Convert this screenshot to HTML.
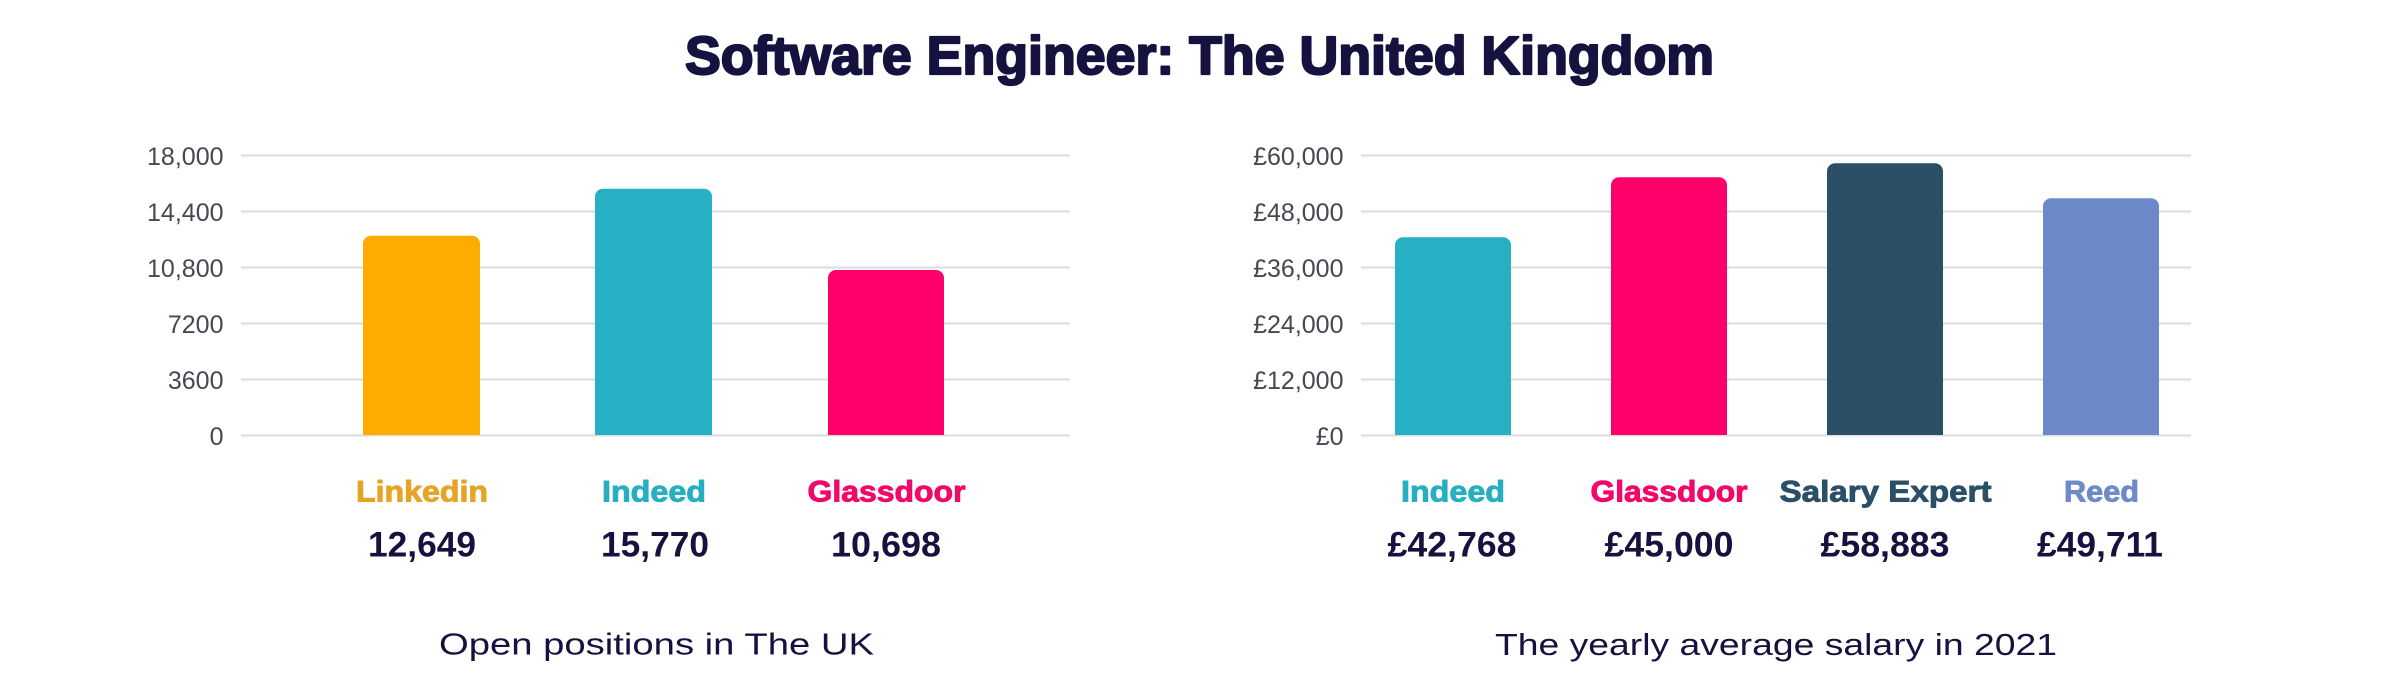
<!DOCTYPE html>
<html>
<head>
<meta charset="utf-8">
<style>
  html,body{margin:0;padding:0;background:#ffffff;}
  svg{display:block;}
  text{font-family:"Liberation Sans", "DejaVu Sans", sans-serif;}
</style>
</head>
<body>
<svg width="2400" height="685" viewBox="0 0 2400 685" xmlns="http://www.w3.org/2000/svg">
  <rect x="0" y="0" width="2400" height="685" fill="#ffffff"/>

  <!-- Title -->
  <text x="685" y="74" font-size="54" font-weight="bold" fill="#16123f" stroke="#16123f" stroke-width="2.2" stroke-linejoin="round" textLength="1029" lengthAdjust="spacingAndGlyphs">Software Engineer: The United Kingdom</text>

  <!-- LEFT CHART gridlines -->
  <g stroke="#dcdcdc" stroke-width="2">
    <line x1="241" y1="155.5" x2="1070" y2="155.5"/>
    <line x1="241" y1="211.5" x2="1070" y2="211.5"/>
    <line x1="241" y1="267.5" x2="1070" y2="267.5"/>
    <line x1="241" y1="323.5" x2="1070" y2="323.5"/>
    <line x1="241" y1="379.5" x2="1070" y2="379.5"/>
    <line x1="241" y1="435.5" x2="1070" y2="435.5"/>
  </g>
  <g font-size="25" fill="#474754" text-anchor="end">
    <text x="223.5" y="165">18,000</text>
    <text x="223.5" y="221">14,400</text>
    <text x="223.5" y="277">10,800</text>
    <text x="223.5" y="333">7200</text>
    <text x="223.5" y="389">3600</text>
    <text x="223.5" y="445">0</text>
  </g>
  <!-- left bars -->
  <path d="M363,435 V243.7 A8,8 0 0 1 371,235.7 H472 A8,8 0 0 1 480,243.7 V435 Z" fill="#ffac00"/>
  <path d="M595,435 V196.7 A8,8 0 0 1 603,188.7 H704 A8,8 0 0 1 712,196.7 V435 Z" fill="#25b1c3"/>
  <path d="M828,435 V278 A8,8 0 0 1 836,270 H936 A8,8 0 0 1 944,278 V435 Z" fill="#ff006a"/>

  <!-- left labels -->
  <g font-size="30" font-weight="bold" text-anchor="middle" stroke-width="0.9" stroke-linejoin="round">
    <text x="422" y="501.5" fill="#e5a424" stroke="#e5a424" textLength="132" lengthAdjust="spacingAndGlyphs">Linkedin</text>
    <text x="654" y="501.5" fill="#27afc1" stroke="#27afc1" textLength="104" lengthAdjust="spacingAndGlyphs">Indeed</text>
    <text x="886.5" y="501.5" fill="#f2076b" stroke="#f2076b" textLength="158" lengthAdjust="spacingAndGlyphs">Glassdoor</text>
  </g>
  <g font-size="35" font-weight="bold" fill="#16123f" text-anchor="middle">
    <text x="422" y="556.5" textLength="108" lengthAdjust="spacingAndGlyphs">12,649</text>
    <text x="655" y="556.5" textLength="108" lengthAdjust="spacingAndGlyphs">15,770</text>
    <text x="886" y="556.5" textLength="110" lengthAdjust="spacingAndGlyphs">10,698</text>
  </g>
  <text x="656.5" y="654.5" font-size="31" fill="#16123f" text-anchor="middle" textLength="435" lengthAdjust="spacingAndGlyphs">Open positions in The UK</text>

  <!-- RIGHT CHART gridlines -->
  <g stroke="#dcdcdc" stroke-width="2">
    <line x1="1361" y1="155.5" x2="2191" y2="155.5"/>
    <line x1="1361" y1="211.5" x2="2191" y2="211.5"/>
    <line x1="1361" y1="267.5" x2="2191" y2="267.5"/>
    <line x1="1361" y1="323.5" x2="2191" y2="323.5"/>
    <line x1="1361" y1="379.5" x2="2191" y2="379.5"/>
    <line x1="1361" y1="435.5" x2="2191" y2="435.5"/>
  </g>
  <g font-size="25" fill="#474754" text-anchor="end">
    <text x="1343.5" y="165">£60,000</text>
    <text x="1343.5" y="221">£48,000</text>
    <text x="1343.5" y="277">£36,000</text>
    <text x="1343.5" y="333">£24,000</text>
    <text x="1343.5" y="389">£12,000</text>
    <text x="1343.5" y="445">£0</text>
  </g>
  <!-- right bars -->
  <path d="M1395,435 V245.3 A8,8 0 0 1 1403,237.3 H1503 A8,8 0 0 1 1511,245.3 V435 Z" fill="#25b1c3"/>
  <path d="M1611,435 V185.3 A8,8 0 0 1 1619,177.3 H1719 A8,8 0 0 1 1727,185.3 V435 Z" fill="#ff006a"/>
  <path d="M1827,435 V171.3 A8,8 0 0 1 1835,163.3 H1935 A8,8 0 0 1 1943,171.3 V435 Z" fill="#2c4f68"/>
  <path d="M2043,435 V206.3 A8,8 0 0 1 2051,198.3 H2151 A8,8 0 0 1 2159,206.3 V435 Z" fill="#6b88c8"/>

  <!-- right labels -->
  <g font-size="30" font-weight="bold" text-anchor="middle" stroke-width="0.9" stroke-linejoin="round">
    <text x="1453" y="501.5" fill="#27afc1" stroke="#27afc1" textLength="104" lengthAdjust="spacingAndGlyphs">Indeed</text>
    <text x="1669" y="501.5" fill="#f2076b" stroke="#f2076b" textLength="157" lengthAdjust="spacingAndGlyphs">Glassdoor</text>
    <text x="1885.5" y="501.5" fill="#2b4f67" stroke="#2b4f67" textLength="212" lengthAdjust="spacingAndGlyphs">Salary Expert</text>
    <text x="2101.5" y="501.5" fill="#6e8bc7" stroke="#6e8bc7" textLength="75" lengthAdjust="spacingAndGlyphs">Reed</text>
  </g>
  <g font-size="35" font-weight="bold" fill="#16123f" text-anchor="middle">
    <text x="1452" y="556.5" textLength="129" lengthAdjust="spacingAndGlyphs">£42,768</text>
    <text x="1669" y="556.5" textLength="129" lengthAdjust="spacingAndGlyphs">£45,000</text>
    <text x="1885" y="556.5" textLength="129" lengthAdjust="spacingAndGlyphs">£58,883</text>
    <text x="2100" y="556.5" textLength="126" lengthAdjust="spacingAndGlyphs">£49,711</text>
  </g>
  <text x="1776" y="655" font-size="31" fill="#16123f" text-anchor="middle" textLength="562" lengthAdjust="spacingAndGlyphs">The yearly average salary in 2021</text>
</svg>
</body>
</html>
